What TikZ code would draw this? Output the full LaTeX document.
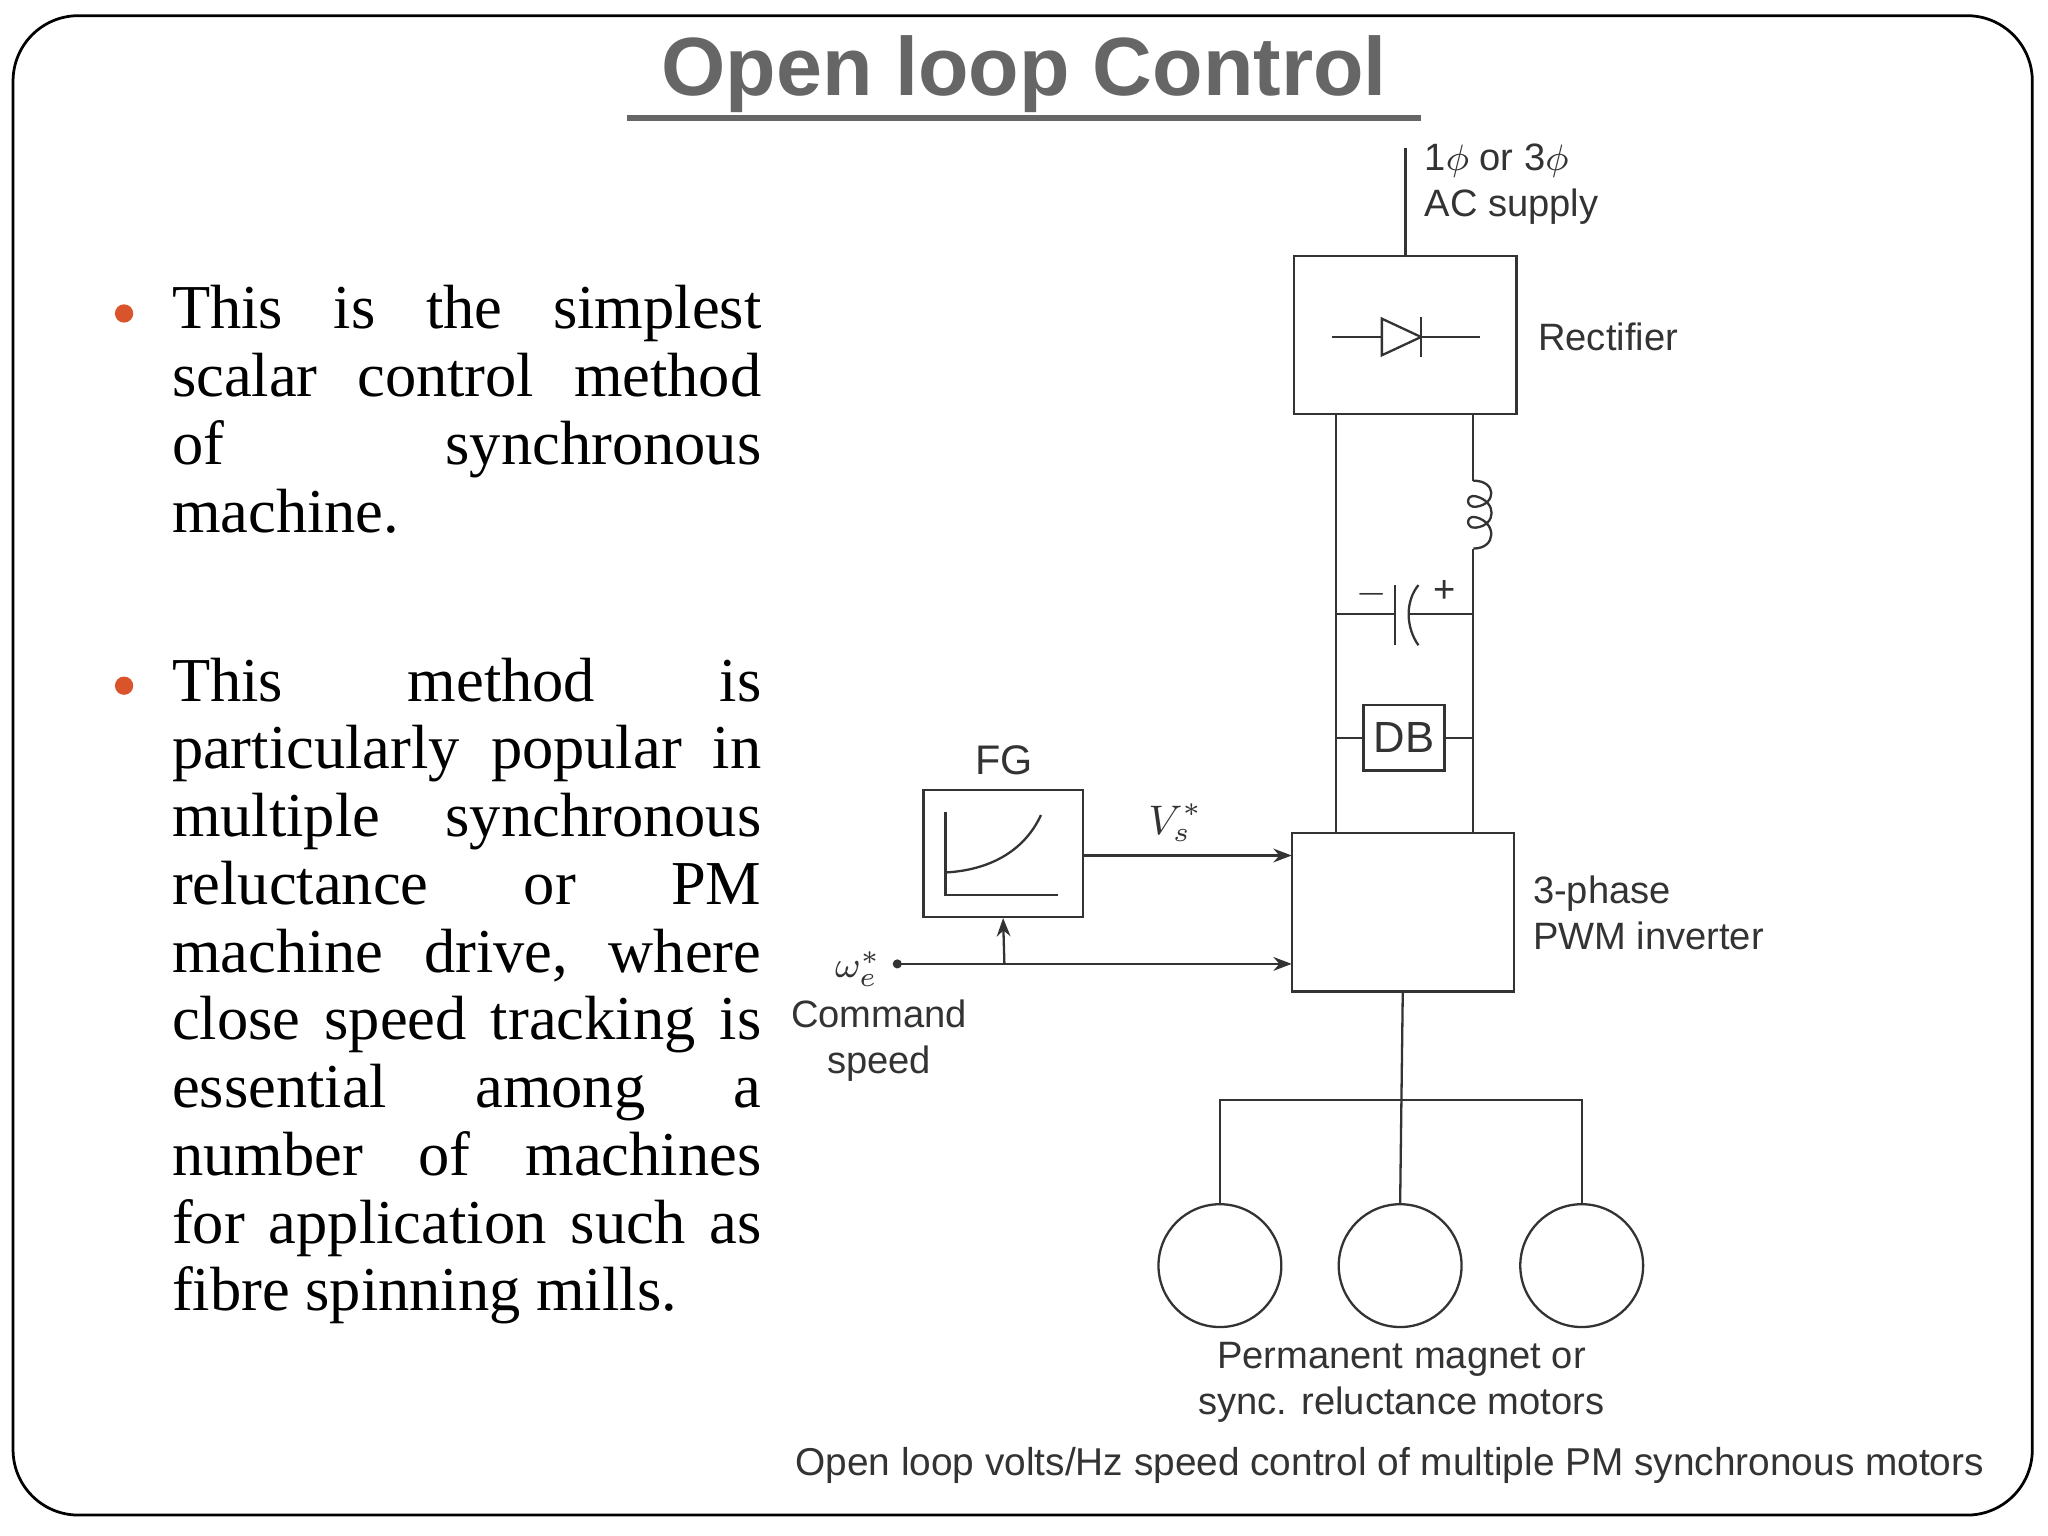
\documentclass[tikz,border=0pt]{standalone}
\usepackage{fontspec}
\setmainfont{Liberation Serif}
\newfontfamily\sans{Liberation Sans}
\usetikzlibrary{arrows.meta}
\definecolor{ln}{HTML}{333333}
\definecolor{bul}{HTML}{D9542B}
\newcommand{\jl}[1]{\hbox to 4.51cm{#1}}
\tikzset{
 w/.style={draw=ln,line width=0.5pt},
 lbl/.style={font=\sans\fontsize{8.3}{10}\selectfont,text=ln,inner sep=0pt},
 arr/.style={w,-{Stealth[length=4pt,width=3pt]}},
 btxt/.style={align=left,font=\fontsize{13.6}{14.75}\selectfont,inner sep=0pt,anchor=north west}
}
\begin{document}
\begin{tikzpicture}[x=0.01cm,y=-0.01cm]
\useasboundingbox (0,0) rectangle (1568,1176);
\fill[white] (0,0) rectangle (1568,1176);
\draw[line width=0.6pt,rounded corners=0.5cm] (10,12) rectangle (1556,1160);
\node[font=\sans\bfseries\fontsize{18}{20}\selectfont,text=black!60] (title) at (784,57) {Open loop Control};
\draw[black!60,line width=1.3pt] (480,90) -- (1088,90);
% bullets
\fill[bul] (95,240) circle (7);
\fill[bul] (95,525) circle (7);
\node[btxt] (b1) at (131,218) {\jl{This\hfill is\hfill the\hfill simplest}\\\jl{scalar\hfill control\hfill method}\\\jl{of\hfill synchronous}\\machine.};
\node[btxt] (b2) at (131,503) {\jl{This\hfill method\hfill is}\\\jl{particularly\hfill popular\hfill in}\\\jl{multiple\hfill synchronous}\\\jl{reluctance\hfill or\hfill PM}\\\jl{machine\hfill drive,\hfill where}\\\jl{close\hfill speed\hfill tracking\hfill is}\\\jl{essential\hfill among\hfill a}\\\jl{number\hfill of\hfill machines}\\\jl{for\hfill application\hfill such\hfill as}\\fibre spinning mills.};
% supply
\coordinate (sup) at (1076,113);
\node[lbl,anchor=west] (l1) at (1090,123) {1$\phi$ or 3$\phi$};
\node[lbl,anchor=west] (l2) at (1090,158) {AC supply};
\node[w,minimum width=1.7cm,minimum height=1.21cm,inner sep=0] (rect) at (1076,256.5) {};
\draw[w] (sup) -- (rect.north);
\node[lbl,anchor=west] at (1177,258) {Rectifier};
\draw[w] (1020,258) -- (1133,258);
\draw[w,fill=white] (1058,244) -- (1088,258) -- (1058,272) -- cycle;
\draw[w] (1088,243) -- (1088,273);
% inverter
\node[w,minimum width=1.7cm,minimum height=1.21cm,inner sep=0] (inv) at (1074,698.5) {};
\node[lbl,anchor=west,align=left] at (1173,699) {3-phase\\PWM inverter};
% DC bus
\draw[w] (1023,317) -- (1023,638);
\draw[w] (1128,317) -- (1128,368);
\draw[w] (1128,368) .. controls (1146,368) and (1146,386) .. (1130,388) .. controls (1122,389) and (1122,378) .. (1130,380)
  .. controls (1146,384) and (1146,402) .. (1130,404) .. controls (1122,405) and (1122,394) .. (1130,396)
  .. controls (1146,400) and (1146,420) .. (1128,420);
\draw[w] (1128,420) -- (1128,638);
% capacitor
\draw[w] (1023,470) -- (1068,470);
\draw[w] (1068,448) -- (1068,494);
\draw[w] (1086,448) .. controls (1076,460) and (1076,480) .. (1086,494);
\draw[w] (1079,470) -- (1128,470);
\node[lbl] at (1050,455) {$-$};
\node[lbl] at (1106,453) {+};
% DB
\node[w,minimum width=0.62cm,minimum height=0.5cm,inner sep=0,lbl,font=\sans\fontsize{9.5}{11}\selectfont] (db) at (1075,565) {DB};
\draw[w] (1023,565) -- (db.west);
\draw[w] (db.east) -- (1128,565);
% FG
\node[w,minimum width=1.22cm,minimum height=0.97cm,inner sep=0] (fg) at (768,653.5) {};
\node[lbl,font=\sans\fontsize{9}{11}\selectfont] at (769,582) {FG};
\draw[w] (724,622) -- (724,685) -- (810,685);
\draw[w] (724,668) .. controls (760,666) and (785,650) .. (797,624);
\coordinate (vs) at (989,655);
\draw[arr] (829,655) -- (vs);
\node[lbl,font=\sans\itshape\fontsize{9}{11}\selectfont] at (900,630) {$V_s^*$};
\coordinate (we) at (687,738);
\fill[ln] (we) circle (3.5);
\draw[arr] (we) -- (989,738);
\draw[arr] (769,738) -- (fg.south);
\node[lbl,anchor=east] at (675,742) {$\omega_e^*$};
\node[lbl,align=center] at (673,797) {Command\\speed};
% motors
\node[w,circle,minimum size=0.94cm,inner sep=0] (m1) at (934,969) {};
\node[w,circle,minimum size=0.94cm,inner sep=0] (m2) at (1072,969) {};
\node[w,circle,minimum size=0.94cm,inner sep=0] (m3) at (1211,969) {};
\draw[w] (inv.south) -- (m2.north);
\draw[w] (m1.north) -- (934,842) -- (1211,842) -- (m3.north);
\node[lbl,align=center] at (1073,1058) {Permanent magnet or\\sync. reluctance motors};
\node[lbl,font=\sans\fontsize{8.45}{10}\selectfont] at (1064,1122) {Open loop volts/Hz speed control of multiple PM synchronous motors};
\end{tikzpicture}
\end{document}
